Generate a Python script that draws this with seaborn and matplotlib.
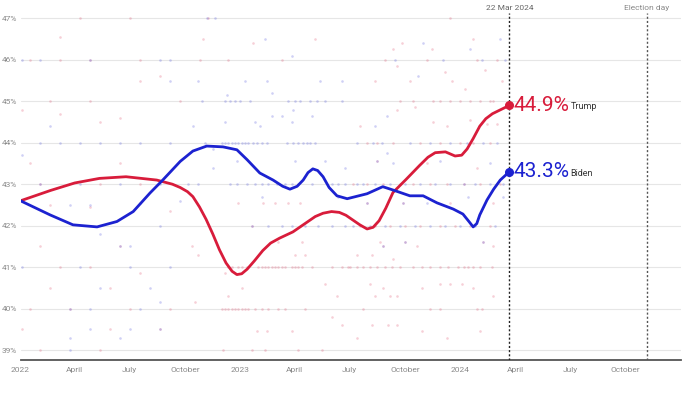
import pandas as pd
import matplotlib
matplotlib.use('Agg')
import matplotlib.pyplot as plt
import seaborn as sns

# trend lines
trump_dates = ['2022-01-01', '2022-02-20', '2022-04-01', '2022-05-12', '2022-06-25', '2022-08-15',
               '2022-09-10', '2022-09-23', '2022-10-05', '2022-10-14', '2022-10-25', '2022-11-05',
               '2022-11-16', '2022-11-27', '2022-12-08', '2022-12-18', '2022-12-26', '2023-01-03',
               '2023-01-12', '2023-01-24', '2023-02-07', '2023-02-20', '2023-03-07', '2023-03-29',
               '2023-04-20', '2023-05-05', '2023-05-18', '2023-06-01', '2023-06-14', '2023-06-25',
               '2023-07-05', '2023-07-18', '2023-07-30', '2023-08-09', '2023-08-19', '2023-08-30',
               '2023-09-11', '2023-10-03', '2023-10-25', '2023-11-08', '2023-11-20', '2023-12-07',
               '2023-12-23', '2024-01-03', '2024-01-12', '2024-01-22', '2024-02-02', '2024-02-12',
               '2024-02-23', '2024-03-08', '2024-03-22']
trump_vals = [42.6, 42.85, 43.03, 43.14, 43.18, 43.1, 43.0, 42.92, 42.82, 42.7, 42.45, 42.15,
              41.8, 41.42, 41.1, 40.9, 40.82, 40.84, 40.95, 41.15, 41.4, 41.58, 41.7, 41.85,
              42.07, 42.22, 42.3, 42.34, 42.32, 42.25, 42.15, 42.02, 41.92, 41.96, 42.12, 42.42,
              42.8, 43.12, 43.45, 43.65, 43.76, 43.78, 43.68, 43.7, 43.85, 44.1, 44.4, 44.58,
              44.7, 44.8, 44.9]

biden_dates = ['2022-01-01', '2022-02-19', '2022-03-29', '2022-05-08', '2022-06-10', '2022-07-07',
               '2022-08-04', '2022-08-25', '2022-09-23', '2022-10-14', '2022-11-06', '2022-12-03',
               '2022-12-26', '2023-01-12', '2023-02-02', '2023-02-24', '2023-03-12', '2023-03-24',
               '2023-04-05', '2023-04-15', '2023-04-23', '2023-05-01', '2023-05-09', '2023-05-18',
               '2023-05-28', '2023-06-10', '2023-06-27', '2023-07-30', '2023-08-25', '2023-09-11',
               '2023-10-09', '2023-10-31', '2023-11-23', '2023-12-20', '2024-01-05', '2024-01-15',
               '2024-01-22', '2024-01-28', '2024-02-02', '2024-02-14', '2024-02-25', '2024-03-07',
               '2024-03-22']
biden_vals = [42.6, 42.26, 42.02, 41.97, 42.1, 42.34, 42.79, 43.1, 43.55, 43.8, 43.92, 43.9,
              43.83, 43.59, 43.27, 43.1, 42.95, 42.88, 42.95, 43.1, 43.28, 43.37, 43.33, 43.18,
              42.92, 42.72, 42.65, 42.77, 42.94, 42.86, 42.72, 42.72, 42.55, 42.4, 42.28, 42.1,
              41.97, 42.05, 42.26, 42.62, 42.88, 43.1, 43.3]

# individual polls: days after 1 Jan 2022 and share
trump_poll_days = [2, 49, 66, 115, 132, 165, 198, 231, 265, 16, 66, 115, 198, 99, 182, 66,
                   32, 132, 198, 16, 165, 49, 115, 248, 32, 165, 66, 115, 198, 49, 148, 16,
                   82, 182, 248, 2, 148, 231, 32, 132,
                   344, 351, 361, 367, 376, 394, 401, 406, 411, 417, 422, 427, 434, 439, 450,
                   456, 460, 467, 484, 517, 533, 543,
                   334, 339, 344, 351, 356, 361, 367, 372, 377, 389, 401, 411, 427, 439, 472,
                   339, 367, 505, 525, 344, 289, 517, 533, 392, 409, 450, 336, 384, 406, 460,
                   500, 284, 294, 467, 427, 456, 472, 384, 361, 403, 422, 444, 464,
                   311, 303, 386, 489, 298, 344, 434,
                   630, 651, 684, 696, 713, 729, 746, 762, 779, 784,
                   605, 675, 757, 790, 713, 633, 683, 751, 618, 625, 704, 771, 588, 646, 716,
                   738, 799, 625, 655, 684, 746, 563, 707, 774, 790,
                   575, 592, 618, 663, 696, 729, 751, 779,
                   552, 575, 601, 630, 651, 679, 707, 735, 762, 796,
                   563, 588, 613, 638, 663, 696, 721, 746, 779,
                   547, 558, 568, 580, 592, 605, 616, 630, 651, 666, 679, 696, 710, 726, 735,
                   743, 751, 762, 782,
                   580, 601, 666, 696, 713, 732, 751, 588, 613, 625, 784, 568, 679, 696, 757,
                   765, 583, 610, 625, 666, 558, 707, 762, 596, 638, 657, 601, 558, 583, 618,
                   767, 784, 575, 635, 713, 784, 592, 675, 757]
trump_poll_vals = [44.8, 45, 44.7, 45, 44.5, 44.6, 45.5, 45.6, 45, 46, 46, 46, 46, 47, 47, 46.55,
                   43, 43, 43, 43.5, 43.5, 42.5, 42.45, 42.35, 41.5, 41.5, 41, 41, 40.85, 40.5,
                   40.5, 40, 40, 40, 40, 39.5, 39.5, 39.5, 39, 39,
                   41, 41, 41, 41, 41, 41, 41, 41, 41, 41, 41, 41, 41, 41, 41,
                   41, 41, 41, 41, 41, 41, 41,
                   40, 40, 40, 40, 40, 40, 40, 40, 40, 40, 40, 40, 40, 40, 40,
                   40.85, 40.5, 40.6, 40.3, 40.3, 40.15, 39.8, 39.6, 39.45, 39.45, 39.45, 39, 39,
                   39, 39, 39, 41.5, 41.3, 41.6, 41.6, 41.3, 41.3, 42, 42.55, 42.55, 42.55, 42.55,
                   42.55,
                   47, 46.5, 46.4, 46.5, 46, 46, 46,
                   45, 45, 45, 45, 45, 45, 45, 45, 45, 45,
                   46, 46, 46, 46, 47, 46.4, 46.25, 46.5, 46.25, 45.85, 45.7, 45.75, 45.5, 45.5,
                   45.5, 45.3, 45.5, 44.8, 44.85, 44.5, 44.55, 44.4, 44.4, 44.45, 44.45,
                   44, 44, 44, 44, 44, 44, 44, 44,
                   43, 43, 43, 43, 43, 43, 43, 43, 43, 43,
                   42, 42, 42, 42, 42, 42, 42, 42, 42,
                   41, 41, 41, 41, 41, 41, 41, 41, 41, 41, 41, 41, 41, 41, 41,
                   41, 41, 41, 41,
                   40.6, 40.5, 40.5, 40.6, 40.6, 40.6, 40.5, 40.3, 40.3, 40.3, 40.3, 40, 40, 40,
                   40, 40, 39.6, 39.6, 39.6, 39.45, 39.3, 39.3, 39.45, 41.6, 41.6, 41.5, 41.5,
                   41.3, 41.3, 41.2, 41.6, 41.5, 42.55, 42.55, 42.55, 42.55, 43.55, 43.5, 43.4]

biden_poll_days = [2, 32, 66, 99, 132, 165, 198, 248, 49, 32, 99, 165, 231, 82, 115, 198, 265,
                   231, 132, 165, 182, 2, 99, 182, 248, 132, 215, 231, 82, 115, 198, 115, 182,
                   231, 82, 165, 82, 2, 115, 231, 248, 248, 32,
                   301, 339, 348, 356, 364, 381, 444, 456, 464, 480, 492, 505, 533,
                   306, 334, 339, 344, 351, 356, 361, 367, 372, 377, 386, 393, 401, 409, 442,
                   452, 460, 469, 475, 480, 489,
                   278, 294, 348, 359, 376, 389, 401, 411, 426, 439, 450, 460, 484, 517, 527,
                   539,
                   384, 411, 434, 450, 472, 494, 517, 539,
                   319, 359, 456, 505, 319, 539, 401, 527, 343, 417, 434, 484, 339, 389, 450,
                   286, 294, 373, 409, 497, 533,
                   323, 406, 309, 450,
                   621, 701, 765, 804, 668, 796, 746, 608, 660, 452, 418, 397, 608, 588,
                   558, 585, 600, 646, 679, 713, 741, 767, 790,
                   558, 568, 588, 613, 638, 663, 687, 713, 735, 754, 779, 801,
                   552, 580, 605, 630, 655, 679, 704, 729, 754, 787,
                   575, 635, 675, 743, 801, 592, 618, 696, 779, 601, 638, 767]
biden_poll_vals = [43.7, 44, 44, 44, 44, 44, 44, 44, 44.4, 43, 43, 43, 43, 42.5, 42.5, 42.55, 42.6,
                   42, 41.8, 41.5, 41.5, 41, 41, 41, 41, 40.5, 40.5, 40.15, 40, 40, 40, 39.5, 39.5,
                   39.5, 39.3, 39.3, 39, 46, 46, 46, 45.5, 46, 46,
                   45, 45, 45, 45, 45, 45, 45, 45, 45, 45, 45, 45, 45,
                   44, 44, 44, 44, 44, 44, 44, 44, 44, 44, 44, 44, 44, 44, 44,
                   44, 44, 44, 44, 44, 44,
                   43, 43, 43, 43, 43, 43, 43, 43, 43, 43, 43, 43, 43, 43, 43,
                   43,
                   42, 42, 42, 42, 42, 42, 42, 42,
                   43.85, 43.55, 43.55, 43.55, 43.4, 43.4, 42.7, 42.7, 45.15, 44.65, 44.65, 44.65,
                   44.5, 44.5, 44.5, 44.4, 45.5, 45.5, 45.5, 45.5, 45.5,
                   47, 46.5, 47, 46.1,
                   46, 46, 46, 46, 46.4, 46.5, 46.25, 44.65, 45.6, 44.8, 45.2, 44.4, 43.75, 44.4,
                   44, 44, 44, 44, 44, 44, 44, 44, 44,
                   43, 43, 43, 43, 43, 43, 43, 43, 43, 43, 43, 43,
                   42, 42, 42, 42, 42, 42, 42, 42, 42, 42,
                   42.55, 42.55, 42.55, 42.7, 42.7, 43.55, 43.5, 43.55, 43.5, 41.5, 41.6, 41.6]

start = pd.Timestamp('2022-01-01')
today = pd.Timestamp('2024-03-22')
election = pd.Timestamp('2024-11-05')

tick_dates = ['2022-01-01', '2022-04-01', '2022-07-01', '2022-10-01', '2023-01-01', '2023-04-01',
              '2023-07-01', '2023-10-01', '2024-01-01', '2024-04-01', '2024-07-01', '2024-10-01']
tick_labels = ['2022', 'April', 'July', 'October', '2023', 'April', 'July', 'October',
               '2024', 'April', 'July', 'October']
y_ticks = [39, 40, 41, 42, 43, 44, 45, 46, 47]

red = '#d81c3b'
blue = '#1c22d0'

sns.set_style('white')
plt.rcParams['font.family'] = ['Liberation Sans Narrow', 'Roboto', 'DejaVu Sans']

fig = plt.figure(figsize=(7, 3.93), dpi=100)
ax = fig.add_axes([0.0293, 0.084, 0.9437, 0.883])

# poll dots
tp = pd.DataFrame({'date': start + pd.to_timedelta(trump_poll_days, unit='D'), 'v': trump_poll_vals})
bp = pd.DataFrame({'date': start + pd.to_timedelta(biden_poll_days, unit='D'), 'v': biden_poll_vals})
sns.scatterplot(data=tp, x='date', y='v', color='#e2607c', s=3.5, alpha=0.3, linewidth=0, ax=ax, zorder=2)
sns.scatterplot(data=bp, x='date', y='v', color='#6066e0', s=3.5, alpha=0.3, linewidth=0, ax=ax, zorder=2)

# trend lines
tl = pd.DataFrame({'date': pd.to_datetime(trump_dates), 'v': trump_vals})
bl = pd.DataFrame({'date': pd.to_datetime(biden_dates), 'v': biden_vals})
sns.lineplot(data=tl, x='date', y='v', color=red, lw=2, ax=ax, zorder=4)
sns.lineplot(data=bl, x='date', y='v', color=blue, lw=2, ax=ax, zorder=4)
ax.plot(tl['date'].iloc[-1], tl['v'].iloc[-1], 'o', color=red, ms=5.5, zorder=5)
ax.plot(bl['date'].iloc[-1], bl['v'].iloc[-1], 'o', color=blue, ms=5.5, zorder=5)

# end labels
for d, v, c, name in [(tl['date'].iloc[-1], tl['v'].iloc[-1], red, 'Trump'),
                      (bl['date'].iloc[-1], bl['v'].iloc[-1], blue, 'Biden')]:
    ax.annotate(f'{v:.1f}%', (d, v), xytext=(3, 0), textcoords='offset points',
                color=c, fontsize=15, va='center', ha='left')
    ax.annotate(name, (d, v), xytext=(44, -1), textcoords='offset points',
                color='#333333', fontsize=6.5, va='center', ha='left')

# vertical markers
ax.axvline(today, color='#222222', lw=1, ls=(0, (1.5, 1.5)), zorder=3)
ax.axvline(election, color='#555555', lw=1, ls=(0, (1.5, 1.5)), zorder=3)
ax.text(today, 1.005, '22 Mar 2024', transform=ax.get_xaxis_transform(), ha='center',
        va='bottom', fontsize=6, color='#666666')
ax.text(election, 1.005, 'Election day', transform=ax.get_xaxis_transform(), ha='center',
        va='bottom', fontsize=6, color='#888888')

ax.set_xlim(start, pd.Timestamp('2025-01-01'))
ax.set_ylim(38.76, 47.13)
ax.set_yticks(y_ticks)
ax.set_yticklabels([f'{t}%' for t in y_ticks])
ax.set_xticks(pd.to_datetime(tick_dates))
ax.set_xticklabels(tick_labels)
ax.grid(axis='y', color='#e6e6e6', lw=0.8)
ax.tick_params(axis='both', length=0, labelsize=6, colors='#8a8a8a')
ax.tick_params(axis='y', pad=2.5)
ax.tick_params(axis='x', pad=5)
ax.set_xlabel('')
ax.set_ylabel('')
for s in ['top', 'right', 'left']:
    ax.spines[s].set_visible(False)
ax.spines['bottom'].set_color('#555555')
ax.spines['bottom'].set_linewidth(1.3)

plt.savefig('out.png', dpi=100)
